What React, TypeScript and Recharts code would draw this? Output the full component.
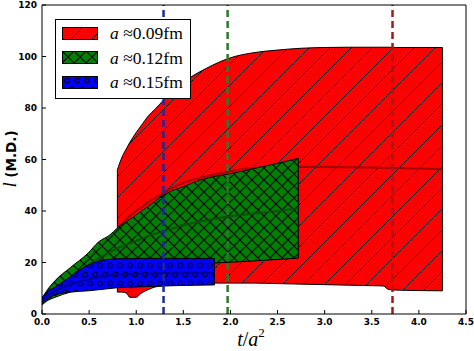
import React from "react";
import { ComposedChart, Area, XAxis, YAxis, ReferenceLine } from "recharts";

const xTicks = [0, 0.5, 1, 1.5, 2, 2.5, 3, 3.5, 4, 4.5];
const yTicks = [0, 20, 40, 60, 80, 100, 120];

// a ~ 0.09 fm
const redX = [0.8, 0.85, 0.9, 0.93, 1.0, 1.05, 1.13, 1.2, 1.3, 1.5, 1.75, 2.0, 2.25, 2.5, 2.75, 3.0, 3.25, 3.5, 3.62, 3.68, 3.75, 4.0, 4.25];
const redLo = [8.5, 8.5, 8, 6.5, 6.5, 8, 9.5, 10.5, 11, 11.5, 12, 12, 12, 11.8, 11.6, 11.4, 11.2, 11, 10.9, 9.5, 9.3, 9.1, 9];
const redHi = [56, 61, 64.5, 66.5, 70.5, 73, 77, 79.5, 83.5, 90, 95.5, 99.5, 101.5, 102.5, 103.2, 103.5, 103.6, 103.6, 103.6, 103.6, 103.5, 103.5, 103.5];
const redMid = [33.5, 35, 37, 38, 40, 41.3, 43.5, 45, 47.3, 51, 53.5, 55.5, 56.8, 57, 57.1, 57.1, 57, 56.9, 56.8, 56.7, 56.7, 56.5, 56.3];

// a ~ 0.12 fm
const greenX = [0, 0.05, 0.14, 0.3, 0.49, 0.6, 0.72, 0.8, 0.97, 1.15, 1.33, 1.5, 1.68, 1.84, 2.0, 2.25, 2.5, 2.72];
const greenLo = [3.5, 5, 6.5, 8.5, 10, 11, 12, 12.5, 13.5, 15, 16, 17, 18.5, 19.8, 20.1, 20.6, 21.2, 21.7];
const greenHi = [6, 9, 13, 18, 23.7, 28, 30.7, 33.4, 37.7, 42.5, 47, 49.5, 52, 53.5, 54.5, 56.5, 58.5, 60.5];
const greenMid = [5, 7, 9.5, 14, 19, 21.5, 24, 25.5, 28, 30.5, 32.6, 34.5, 36, 37, 38, 39, 40, 41];

// a ~ 0.15 fm
const blueX = [0, 0.05, 0.14, 0.3, 0.49, 0.67, 0.8, 1.0, 1.4, 1.83];
const blueLo = [4, 5.8, 7.4, 8.5, 9, 9.7, 10.2, 10.5, 11, 11.3];
const blueHi = [6.5, 8.5, 10.5, 14.4, 19, 21, 21.5, 21.6, 21.6, 21.6];
const blueMid = [5.2, 7, 9, 11.5, 13.5, 14.8, 15.3, 15.6, 15.8, 16];

const legendLabels = ["0.09fm", "0.12fm", "0.15fm"];
const markerX = [1.29, 1.97, 3.72];

const bandFills = ["url(#hatchRed)", "url(#hatchGreen)", "url(#dotBlue)"];
const midColors = ["#9a0000", "#0b4f0b", "#00009a"];
const markerColors = ["#1c2a9c", "#2a7a2a", "#a31818"];

const band = (xs: number[], lo: number[], hi: number[], mid: number[]) =>
  xs.map((x, i) => ({ x, band: [lo[i], hi[i]], mid: mid[i] }));

const edge = (x: number, lo: number, hi: number) => [
  { x, e: lo },
  { x, e: hi },
];

const series = [
  { key: "red", data: band(redX, redLo, redHi, redMid), xs: redX, lo: redLo, hi: redHi },
  { key: "green", data: band(greenX, greenLo, greenHi, greenMid), xs: greenX, lo: greenLo, hi: greenHi },
  { key: "blue", data: band(blueX, blueLo, blueHi, blueMid), xs: blueX, lo: blueLo, hi: blueHi },
];

const tickStyle = { fontSize: 9, fontWeight: "bold", fill: "#000", fontFamily: "DejaVu Sans" };

const XLabel = () => (
  <text x={251} y={346} textAnchor="middle" fontFamily="Liberation Serif" fontSize={20} fill="#000">
    <tspan fontStyle="italic">t</tspan>
    <tspan>/</tspan>
    <tspan fontStyle="italic">a</tspan>
    <tspan fontSize={13} dy={-9}>2</tspan>
  </text>
);

const YLabel = () => (
  <text x={16} y={159} transform="rotate(-90 16 159)" textAnchor="middle" fill="#000">
    <tspan fontFamily="Liberation Serif" fontStyle="italic" fontSize={19}>l</tspan>
    <tspan fontFamily="DejaVu Sans" fontWeight="bold" fontSize={13.5}> (M.D.)</tspan>
  </text>
);

function Patterns() {
  return (
    <svg width={0} height={0} style={{ position: "absolute" }}>
      <defs>
        <pattern id="hatchRed" patternUnits="userSpaceOnUse" width={21} height={21}>
          <rect width={21} height={21} fill="#ff0000" />
          <path d="M0,21 L21,0 M-5,5 L5,-5 M16,26 L26,16" stroke="#000" strokeWidth={1} />
        </pattern>
        <pattern id="hatchGreen" patternUnits="userSpaceOnUse" width={12} height={12}>
          <rect width={12} height={12} fill="#008000" />
          <path d="M0,12 L12,0 M0,0 L12,12 M-3,3 L3,-3 M9,15 L15,9 M-3,9 L3,15 M9,-3 L15,3" stroke="#000" strokeWidth={1.1} />
        </pattern>
        <pattern id="dotBlue" patternUnits="userSpaceOnUse" width={10} height={18}>
          <rect width={10} height={18} fill="#0000ff" />
          <circle cx={5} cy={4.5} r={2.3} fill="none" stroke="#000038" strokeWidth={1.2} />
          <circle cx={0} cy={13.5} r={2.3} fill="none" stroke="#000038" strokeWidth={1.2} />
          <circle cx={10} cy={13.5} r={2.3} fill="none" stroke="#000038" strokeWidth={1.2} />
        </pattern>
      </defs>
    </svg>
  );
}

function LegendBox() {
  return (
    <div
      style={{
        position: "absolute",
        left: 55,
        top: 19,
        width: 136,
        height: 80,
        boxSizing: "border-box",
        border: "1px solid #000",
        background: "#fff",
      }}
    >
      {legendLabels.map((lab, i) => (
        <div
          key={lab}
          style={{ position: "absolute", left: 6, top: 6 + i * 24.5, height: 14, display: "flex", alignItems: "center" }}
        >
          <svg width={36} height={13}>
            <rect x={0.5} y={0.5} width={35} height={12} fill={bandFills[i]} stroke="#000" />
          </svg>
          <span style={{ marginLeft: 12, fontFamily: "Liberation Serif", fontSize: 17.5, whiteSpace: "nowrap", lineHeight: "14px" }}>
            <i>a</i> ≈{lab}
          </span>
        </div>
      ))}
    </div>
  );
}

export default function App() {
  return (
    <div style={{ position: "absolute", left: 0, top: 0, width: 474, height: 351, background: "#fff" }}>
      <Patterns />
      <ComposedChart width={474} height={351} margin={{ top: 4, right: 7, bottom: 17, left: 0 }}>
        <XAxis
          dataKey="x"
          type="number"
          domain={[0, 4.5]}
          ticks={xTicks}
          tickFormatter={(v: number) => v.toFixed(1)}
          tick={tickStyle}
          tickSize={-4}
          tickMargin={9}
          height={20}
          stroke="#000"
          allowDataOverflow
          label={XLabel}
        />
        <XAxis
          xAxisId="top"
          orientation="top"
          type="number"
          domain={[0, 4.5]}
          ticks={xTicks}
          tick={false}
          tickSize={-4}
          height={1}
          stroke="#000"
        />
        <YAxis
          type="number"
          domain={[0, 120]}
          ticks={yTicks}
          tick={tickStyle}
          tickSize={-4}
          tickMargin={9}
          width={42}
          stroke="#000"
          allowDataOverflow
          label={YLabel}
        />
        <YAxis
          yAxisId="right"
          orientation="right"
          type="number"
          domain={[0, 120]}
          ticks={yTicks}
          tick={false}
          tickSize={-4}
          width={1}
          stroke="#000"
        />
        {series.map((s, i) => {
          const n = s.xs.length - 1;
          return [
            <Area
              key={`${s.key}-band`}
              data={s.data}
              dataKey="band"
              type="monotone"
              fill={bandFills[i]}
              fillOpacity={1}
              stroke="#000"
              strokeWidth={1}
              dot={false}
              activeDot={false}
              isAnimationActive={false}
            />,
            <Area
              key={`${s.key}-left`}
              data={edge(s.xs[0], s.lo[0], s.hi[0])}
              dataKey="e"
              type="linear"
              fill="none"
              stroke="#000"
              strokeWidth={1}
              dot={false}
              activeDot={false}
              isAnimationActive={false}
            />,
            <Area
              key={`${s.key}-right`}
              data={edge(s.xs[n], s.lo[n], s.hi[n])}
              dataKey="e"
              type="linear"
              fill="none"
              stroke="#000"
              strokeWidth={1}
              dot={false}
              activeDot={false}
              isAnimationActive={false}
            />,
            <Area
              key={`${s.key}-mid`}
              data={s.data}
              dataKey="mid"
              type="monotone"
              fill="none"
              stroke={midColors[i]}
              strokeOpacity={0.9}
              strokeWidth={2.2}
              dot={false}
              activeDot={false}
              isAnimationActive={false}
            />,
          ];
        })}
        {markerX.map((v, i) => (
          <ReferenceLine
            key={`m-${i}`}
            x={v}
            stroke={markerColors[i]}
            strokeWidth={2.5}
            strokeDasharray="7 4"
          />
        ))}
      </ComposedChart>
      <LegendBox />
    </div>
  );
}
